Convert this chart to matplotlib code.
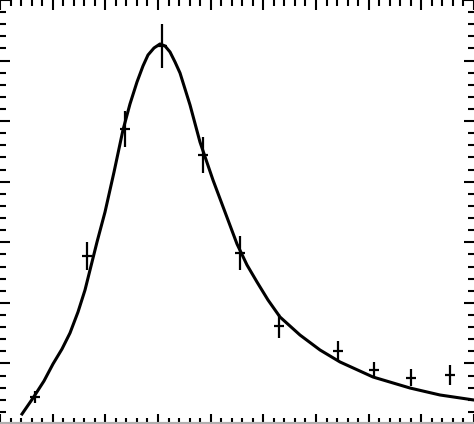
import matplotlib
matplotlib.use("Agg")
import matplotlib.pyplot as plt
from matplotlib.ticker import MultipleLocator

# Measured data points with error bars
x_data = [0.665, 1.652, 2.373, 3.076, 3.854, 4.557, 5.297, 6.417, 7.10, 7.80, 8.54]
y_data = [0.446, 2.77, 4.87, 6.24, 4.44, 2.82, 1.62, 1.205, 0.89, 0.76, 0.81]
y_err = [0.10, 0.23, 0.30, 0.37, 0.30, 0.28, 0.20, 0.16, 0.13, 0.14, 0.16]
x_err = [0.1, 0.1, 0.1, 0.1, 0.1, 0.1, 0.1, 0.1, 0.1, 0.1, 0.1]

# Fitted curve
x_fit = [0.418, 0.627, 0.835, 1.006, 1.177, 1.329, 1.481, 1.614, 1.709, 1.842,
         1.994, 2.165, 2.335, 2.468, 2.601, 2.715, 2.810, 2.924, 3.038, 3.133,
         3.228, 3.323, 3.418, 3.608, 3.797, 4.044, 4.272, 4.500, 4.690, 4.880,
         5.089, 5.316, 5.696, 6.076, 6.456, 7.082, 7.785, 8.354, 9.000]
y_fit = [0.165, 0.429, 0.710, 0.991, 1.238, 1.502, 1.849, 2.212, 2.542, 3.005,
         3.500, 4.160, 4.854, 5.283, 5.646, 5.911, 6.092, 6.208, 6.274, 6.241,
         6.142, 5.977, 5.795, 5.267, 4.656, 4.028, 3.500, 2.972, 2.625, 2.344,
         2.047, 1.767, 1.469, 1.222, 1.024, 0.776, 0.594, 0.479, 0.396]

fig = plt.figure(figsize=(4.74, 4.24), dpi=100)
ax = fig.add_axes([0, 0, 1, 1])

ax.plot(x_fit, y_fit, color="black", lw=2.2)
ax.errorbar(x_data, y_data, yerr=y_err, xerr=x_err, fmt="none",
            ecolor="black", elinewidth=1.6, capsize=0)

ax.set_xlim(0, 9)
ax.set_ylim(0, 7)
ax.xaxis.set_major_locator(MultipleLocator(1))
ax.xaxis.set_minor_locator(MultipleLocator(0.2))
ax.yaxis.set_major_locator(MultipleLocator(1))
ax.yaxis.set_minor_locator(MultipleLocator(0.2))
ax.tick_params(which="both", direction="in", top=True, right=True,
               labelbottom=False, labelleft=False, width=1.5)
ax.tick_params(which="major", length=7.5)
ax.tick_params(which="minor", length=4)
for s in ["left", "right", "top"]:
    ax.spines[s].set_visible(False)
ax.spines["bottom"].set_color("#b0b0b0")
ax.spines["bottom"].set_linewidth(3)

fig.savefig("out.png", dpi=100)
